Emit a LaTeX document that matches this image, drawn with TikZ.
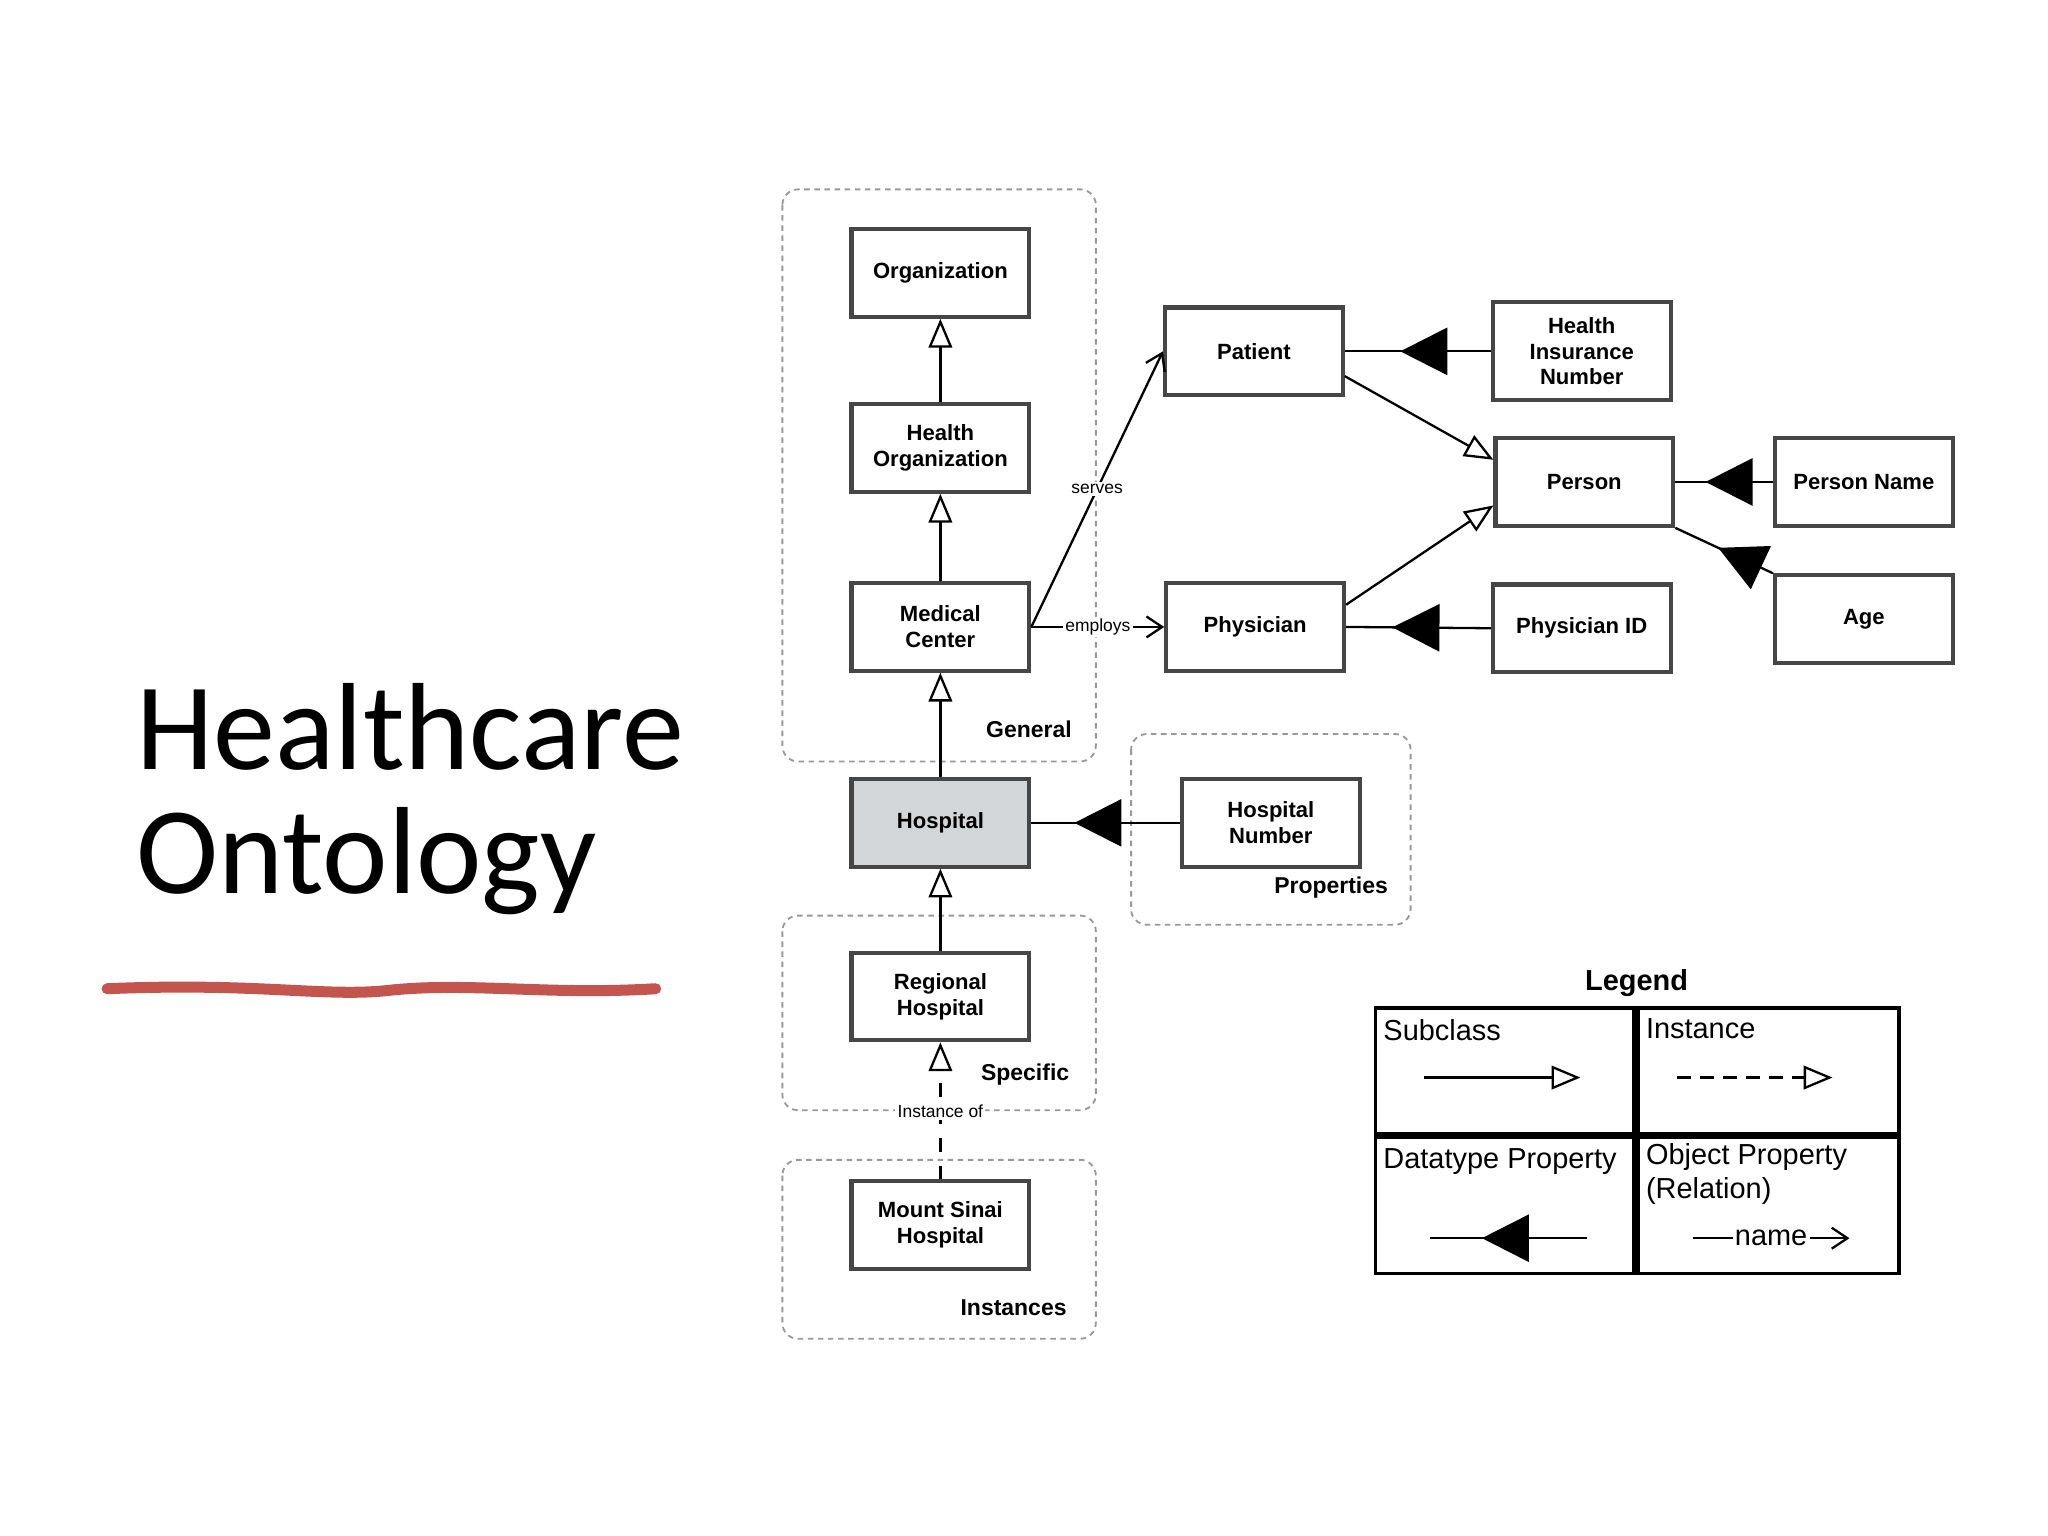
\documentclass[tikz,border=0pt]{standalone}
\usepackage{fontspec}
\setmainfont{Liberation Sans}
\newfontfamily\titlefont{Carlito}
\usetikzlibrary{arrows.meta,decorations.markings}
\definecolor{boxgray}{RGB}{70,70,70}
\definecolor{hosp}{RGB}{210,214,216}
\definecolor{redline}{RGB}{196,84,78}
\tikzset{
 cls/.style={draw=boxgray,line width=0.9pt,minimum width=1.36cm,minimum height=0.67cm,align=center,font=\bfseries\fontsize{4.8}{5.6}\selectfont,inner sep=1pt},
 grp/.style={draw=gray!80,dashed,dash pattern=on 1.2pt off 1pt,line width=0.4pt,rounded corners=0.12cm},
 glabel/.style={font=\bfseries\fontsize{5}{6}\selectfont,anchor=south east},
 sub/.style={line width=0.5pt,-{Triangle[open,length=0.22cm,width=0.18cm,line width=0.5pt]}},
 obj/.style={line width=0.5pt,-{Straight Barb[length=0.12cm,width=0.16cm,line width=0.5pt]}},
 dtp/.style={line width=0.5pt,decoration={markings,mark=at position #1 with {\arrow{Triangle[length=0.36cm,width=0.36cm,line width=0.6pt,fill=black]}}},postaction={decorate}},
 small/.style={font=\fontsize{3.8}{4.5}\selectfont,inner sep=0.5pt},
 leg/.style={font=\fontsize{6.3}{7.4}\selectfont,anchor=north west,align=left,inner sep=1pt}
}
\begin{document}
\begin{tikzpicture}[x=0.01cm,y=-0.01cm]
\useasboundingbox (0,0) rectangle (1568,1176);
% title
\node[anchor=west,font=\titlefont\fontsize{27}{30}\selectfont,align=left] (title) at (92,612) {Healthcare\\[-3pt]Ontology};
\draw[redline,line width=2.4pt,line cap=round] (82,757) .. controls (200,752) and (250,764) .. (300,758) .. controls (360,752) and (420,762) .. (502,757);
% groups
\draw[grp] (599,145) rectangle (839,583);
\node[glabel] (gl1) at (833,577) {General};
\draw[grp] (866,562) rectangle (1080,708);
\node[glabel] (gl2) at (1075,700) {Properties};
\draw[grp] (599,701) rectangle (839,850);
\node[glabel] (gl3) at (831,843) {Specific};
\draw[grp] (599,888) rectangle (839,1025);
\node[glabel] (gl4) at (829,1020) {Instances};
% classes
\node[cls] (org) at (720,209) {Organization};
\node[cls] (ho) at (720,343) {Health\\Organization};
\node[cls] (mc) at (720,480) {Medical\\Center};
\node[cls,fill=hosp] (hos) at (720,630) {Hospital};
\node[cls] (rh) at (720,763) {Regional\\Hospital};
\node[cls] (ms) at (720,938) {Mount Sinai\\Hospital};
\node[cls] (pat) at (960,269) {Patient};
\node[cls,minimum height=0.75cm] (hin) at (1211,269) {Health\\Insurance\\Number};
\node[cls] (per) at (1213,369) {Person};
\node[cls] (pn) at (1427,369) {Person Name};
\node[cls] (age) at (1427,474) {Age};
\node[cls] (phy) at (961,480) {Physician};
\node[cls] (pid) at (1211,481) {Physician ID};
\node[cls] (hn) at (973,630) {Hospital\\Number};
% subclass
\draw[sub] (ho) -- (org);
\draw[sub] (mc) -- (ho);
\draw[sub] (hos) -- (mc);
\draw[sub] (rh) -- (hos);
\draw[sub,dashed] (ms) -- node[small,fill=white] {Instance of} (rh);
\draw[sub] (pat.east |- 0,288) -- (per.west |- 0,352);
\draw[sub] (phy.east |- 0,463) -- (per.west |- 0,387);
% object properties
\draw[obj] (mc.east) -- node[small,pos=0.5,fill=white] {serves} (pat.west);
\draw[obj] (mc.east) -- node[small,fill=white] {employs} (phy.west);
% datatype
\draw[dtp=0.62] (hin.west) -- (pat.east);
\draw[dtp=0.69] (pn.west) -- (per.east);
\draw[dtp=0.56] (age.north west) -- (per.south east);
\draw[dtp=0.68] (pid.west) -- (phy.east);
\draw[dtp=0.71] (hn.west) -- (hos.east);
% legend
\node[font=\bfseries\fontsize{6.3}{7}\selectfont] (legt) at (1253,753) {Legend};
\draw[line width=0.8pt] (1053,772) rectangle (1251,868);
\draw[line width=0.8pt] (1254,772) rectangle (1454,868);
\draw[line width=0.8pt] (1053,871) rectangle (1251,975);
\draw[line width=0.8pt] (1254,871) rectangle (1454,975);
\node[leg] (l1) at (1055,776) {Subclass};
\node[leg] (l2) at (1256,776) {Instance};
\node[leg] (l3) at (1055,875) {Datatype Property};
\node[leg] (l4) at (1256,871) {Object Property\\(Relation)};
\coordinate (a1) at (1090,825); \coordinate (b1) at (1210,825);
\draw[sub] (a1) -- (b1);
\coordinate (a2) at (1284,825); \coordinate (b2) at (1403,825);
\draw[sub,dashed,dash pattern=on 3pt off 2pt] (a2) -- (b2);
\coordinate (a3) at (1215,948); \coordinate (b3) at (1095,948);
\draw[dtp=0.67] (a3) -- (b3);
\coordinate (a4) at (1296,948); \coordinate (b4) at (1416,948);
\draw[obj] (a4) -- node[font=\fontsize{6.3}{7}\selectfont,fill=white,inner sep=0.5pt] {name} (b4);
\end{tikzpicture}
\end{document}
